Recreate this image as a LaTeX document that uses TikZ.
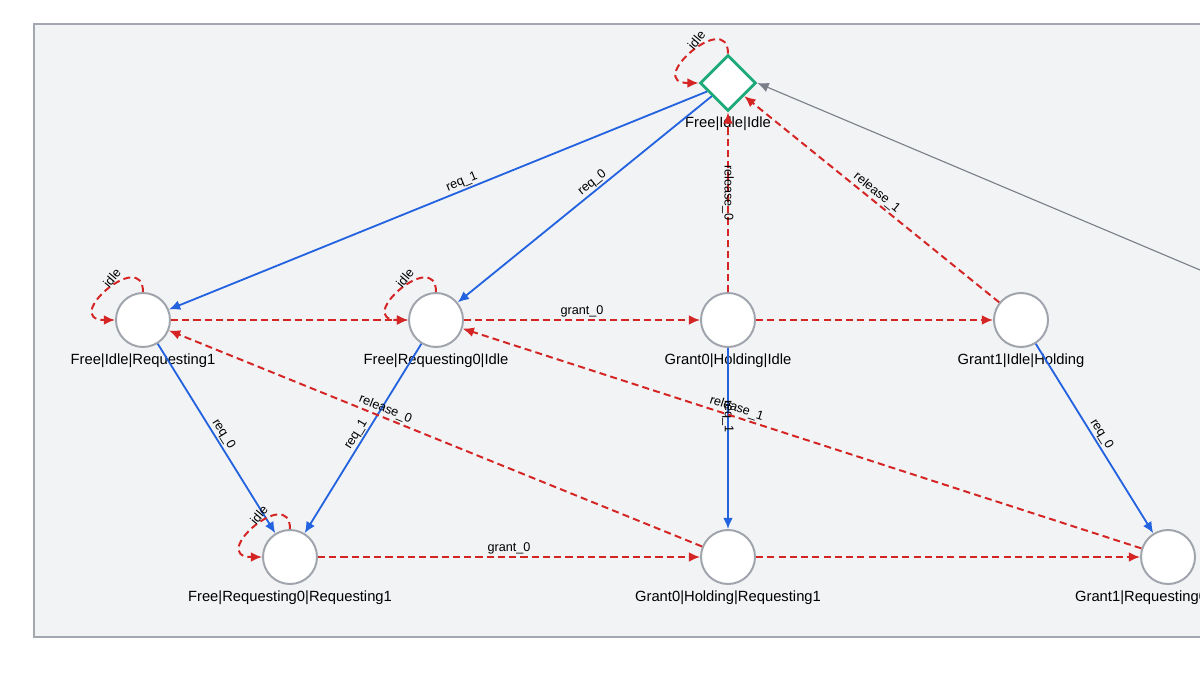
\documentclass[tikz,border=0pt]{standalone}
\usepackage{fontspec}
\setmainfont{Liberation Sans}
\usetikzlibrary{shapes.geometric,arrows.meta}
\definecolor{bgc}{HTML}{F2F3F5}
\definecolor{frame}{HTML}{A3A8B0}
\definecolor{ring}{HTML}{A0A4AC}
\definecolor{blu}{HTML}{2463E0}
\definecolor{rd}{HTML}{D42424}
\definecolor{grn}{HTML}{1FAA7A}
\definecolor{gry}{HTML}{7A7F88}
\begin{document}
\begin{tikzpicture}[x=0.025cm,y=-0.025cm,
  st/.style={circle,draw=ring,line width=1.4pt,fill=white,minimum size=1.35cm,inner sep=0pt},
  init/.style={diamond,draw=grn,line width=2pt,fill=white,minimum size=1.4cm,inner sep=0pt},
  lab/.style={font=\fontsize{10.5}{12}\selectfont,inner sep=1pt},
  ef/.style={font=\fontsize{9}{10}\selectfont,inner sep=1pt},
  el/.style={ef,sloped,above},
  il/.style={ef,rotate=50,anchor=south},
  bl/.style={draw=blu,line width=1.3pt,-{Latex[length=8pt,width=7pt]}},
  rdd/.style={draw=rd,line width=1.4pt,dash pattern=on 5pt off 3pt,-{Latex[length=8pt,width=7pt]}}]
\useasboundingbox (0,0) rectangle (1200,675);
\path[fill=bgc,draw=frame,line width=0.8pt] (34,24) rectangle (1230,637);
\node[init] (a) at (728,83) {};
\node[st] (b) at (143,320) {};
\node[st] (c) at (436,320) {};
\node[st] (d) at (728,320) {};
\node[st] (e) at (1021,320) {};
\node[st] (f) at (290,557) {};
\node[st] (g) at (728,557) {};
\node[st] (h) at (1168,557) {};
\node[lab,below=2pt] (la) at (a.south) {Free|Idle|Idle};
\node[lab,below=3pt] (lb) at (b.south) {Free|Idle|Requesting1};
\node[lab,below=3pt] (lc) at (c.south) {Free|Requesting0|Idle};
\node[lab,below=3pt] (ld) at (d.south) {Grant0|Holding|Idle};
\node[lab,below=3pt] (le) at (e.south) {Grant1|Idle|Holding};
\node[lab,below=3pt] (lf) at (f.south) {Free|Requesting0|Requesting1};
\node[lab,below=3pt] (lg) at (g.south) {Grant0|Holding|Requesting1};
\node[lab,below=3pt] (lh) at (h.south) {Grant1|Requesting0|Holding};
\coordinate (gx) at (1200,270);
\draw[gry,line width=0.8pt,-{Latex[length=8pt,width=7pt]}] (gx) -- (a.east);
% blue
\draw[bl] (a) -- node[el,pos=0.45]{req\_1} (b);
\draw[bl] (a) -- node[el,pos=0.45]{req\_0} (c);
\draw[bl] (b) -- node[el]{req\_0} (f);
\draw[bl] (c) -- node[el]{req\_1} (f);
\draw[bl] (d) -- node[ef,rotate=-90,pos=0.38]{req\_1} (g);
\draw[bl] (e) -- node[el]{req\_0} (h);
% red
\draw[rdd] (d) -- node[ef,rotate=-90,pos=0.55]{release\_0} (a);
\draw[rdd] (e) -- node[el]{release\_1} (a);
\draw[rdd] (b) -- (c);
\draw[rdd] (c) -- node[el]{grant\_0} (d);
\draw[rdd] (d) -- (e);
\draw[rdd] (g) -- node[el,pos=0.6]{release\_0} (b);
\draw[rdd] (h) -- node[el,pos=0.6]{release\_1} (c);
\draw[rdd] (f) -- node[el]{grant\_0} (g);
\draw[rdd] (g) -- (h);
% loops
\draw[rdd] (a.north) .. controls +(0,-45) and +(-55,0) .. node[il,pos=0.4]{idle} (a.west);
\draw[rdd] (b.north) .. controls +(0,-45) and +(-55,0) .. node[il,pos=0.4]{idle} (b.west);
\draw[rdd] (c.north) .. controls +(0,-45) and +(-55,0) .. node[il,pos=0.4]{idle} (c.west);
\draw[rdd] (f.north) .. controls +(0,-45) and +(-55,0) .. node[il,pos=0.4]{idle} (f.west);
\end{tikzpicture}
\end{document}
